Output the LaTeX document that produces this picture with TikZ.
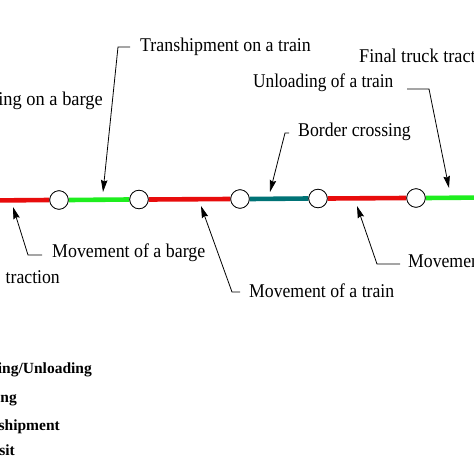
\documentclass[tikz,border=0pt]{standalone}
\usepackage{fontspec}
\setmainfont{Liberation Serif}
\usetikzlibrary{arrows.meta}
\definecolor{segred}{RGB}{232,12,12}
\definecolor{seggreen}{RGB}{30,238,30}
\definecolor{segteal}{RGB}{0,115,118}
\newcommand{\stxt}[2]{\scalebox{#1}[1.1]{#2}}
\begin{document}
\begin{tikzpicture}[x=1pt,y=-1pt,
  lbl/.style={inner sep=0pt,font=\fontsize{17.7}{20}\selectfont},
  leg/.style={inner sep=0pt,font=\fontsize{15.5}{18}\selectfont\bfseries},
  stop/.style={circle,draw=black,fill=white,line width=0.7pt,minimum size=18.5pt,inner sep=0pt},
  seg/.style={line width=4.6pt},
  lead/.style={line width=0.8pt,-{Stealth[length=12pt,width=6.5pt,inset=1.5pt]}}]
\useasboundingbox (0,0) rectangle (474,474);
\fill[white] (0,0) rectangle (474,474);
% ends and stops
\coordinate (s0) at (-10,200.5);
\coordinate (s6) at (484,197.5);
\node[stop] (c1) at (59,200) {};
\node[stop] (c2) at (139,199.5) {};
\node[stop] (c3) at (240,199) {};
\node[stop] (c4) at (318,198.5) {};
\node[stop] (c5) at (416,198) {};
% segments
\draw[seg,segred]   (s0) -- (c1.west);
\draw[seg,seggreen] (c1.east) -- (c2.west);
\draw[seg,segred]   (c2.east) -- (c3.west);
\draw[seg,segteal]  (c3.east) -- (c4.west);
\draw[seg,segred]   (c4.east) -- (c5.west);
\draw[seg,seggreen] (c5.east) -- (s6);
% redraw stops on top
\node[stop] at (c1) {};
\node[stop] at (c2) {};
\node[stop] at (c3) {};
\node[stop] at (c4) {};
\node[stop] at (c5) {};
% arrow targets
\coordinate (tA) at (103,192);
\coordinate (tB) at (270,192);
\coordinate (tC) at (449,188);
\coordinate (tD) at (13,207);
\coordinate (tE) at (201,206);
\coordinate (tF) at (357,206);
% labels
\node[lbl,anchor=base west] (lA) at (140,51) {\stxt{1.01}{Transhipment on a train}};
\node[lbl,anchor=base east] (lG) at (103,105) {\stxt{1.04}{Loading on a barge}};
\node[lbl,anchor=base west] (lH) at (359,62) {\stxt{1.03}{Final truck traction}};
\node[lbl,anchor=base west] (lC) at (253,87) {\stxt{0.98}{Unloading of a train}};
\node[lbl,anchor=base west] (lB) at (298,136) {\stxt{1.0}{Border crossing}};
\node[lbl,anchor=base west] (lD) at (52,257) {\stxt{1.01}{Movement of a barge}};
\node[lbl,anchor=base east] (lI) at (60,283) {\stxt{1.0}{Initial truck\hspace{4pt} traction}};
\node[lbl,anchor=base west] (lE) at (249,297) {\stxt{1.0}{Movement of a train}};
\node[lbl,anchor=base west] (lF) at (408,267) {\stxt{1.0}{Movement of a train}};
% leaders
\coordinate (kA1) at (130,47);  \coordinate (kA2) at (118,47);
\coordinate (kB1) at (289,133); \coordinate (kB2) at (285,133);
\coordinate (kC1) at (407,89);  \coordinate (kC2) at (429,89);
\coordinate (kD1) at (42,255);  \coordinate (kD2) at (28,255);
\coordinate (kE1) at (240,292); \coordinate (kE2) at (232,292);
\coordinate (kF1) at (400,264); \coordinate (kF2) at (377,264);
\draw[lead] (kA1) -- (kA2) -- (tA);
\draw[lead] (kB1) -- (kB2) -- (tB);
\draw[lead] (kC1) -- (kC2) -- (tC);
\draw[lead] (kD1) -- (kD2) -- (tD);
\draw[lead] (kE1) -- (kE2) -- (tE);
\draw[lead] (kF1) -- (kF2) -- (tF);
% legend
\node[leg,anchor=base east] (g1) at (92,373) {Loading/Unloading};
\node[leg,anchor=base east] (g2) at (17,402) {Moving};
\node[leg,anchor=base east] (g3) at (60,430) {Transhipment};
\node[leg,anchor=base east] (g4) at (15,455) {Transit};
\end{tikzpicture}
\end{document}
